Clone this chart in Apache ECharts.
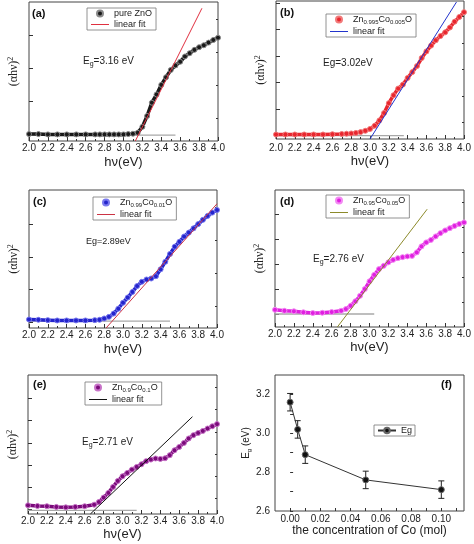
<!DOCTYPE html>
<html>
<head>
<meta charset="utf-8">
<script src="https://cdn.jsdelivr.net/npm/echarts@6/dist/echarts.min.js"></script>
<style>
html, body { margin: 0; padding: 0; background: #fff; }
#main { width: 474px; height: 544px; }
</style>
</head>
<body>
<div id="main"></div>
<script>
// photon energy (eV), shared by panels a-e
const energy = [2.0, 2.1, 2.2, 2.3, 2.4, 2.5, 2.6, 2.7, 2.75, 2.8, 2.85, 2.9, 2.95, 3.0, 3.05, 3.1, 3.15,
    3.2, 3.25, 3.3, 3.35, 3.4, 3.45, 3.5, 3.55, 3.6, 3.65, 3.7, 3.75, 3.8, 3.85, 3.9, 3.95, 4.0];

// (alpha h nu)^2, arbitrary units
const taucA = [0.21, 0.21, 0.2, 0.2, 0.2, 0.2, 0.2, 0.2, 0.2, 0.2, 0.2, 0.2, 0.2, 0.2, 0.21, 0.22, 0.25,
    0.43, 0.76, 1.16, 1.41, 1.7, 1.93, 2.15, 2.29, 2.4, 2.56, 2.66, 2.76, 2.84, 2.9, 2.98, 3.06, 3.13];
const taucB = [0.17, 0.17, 0.17, 0.17, 0.17, 0.17, 0.18, 0.19, 0.2, 0.21, 0.23, 0.26, 0.31, 0.38, 0.5, 0.7, 0.98,
    1.35, 1.65, 1.9, 2.05, 2.3, 2.52, 2.75, 3.05, 3.3, 3.52, 3.72, 3.88, 4.02, 4.2, 4.42, 4.6, 4.78];
const taucC = [0.26, 0.25, 0.24, 0.23, 0.23, 0.23, 0.23, 0.24, 0.25, 0.29, 0.34, 0.44, 0.59, 0.77, 0.93, 1.1, 1.28,
    1.41, 1.48, 1.51, 1.58, 1.79, 2.02, 2.26, 2.48, 2.63, 2.79, 2.91, 3.04, 3.17, 3.3, 3.42, 3.52, 3.6];
const taucD = [0.69, 0.65, 0.63, 0.59, 0.56, 0.57, 0.6, 0.65, 0.72, 0.85, 1.03, 1.25, 1.52, 1.83, 2.09, 2.32, 2.45,
    2.59, 2.69, 2.76, 2.8, 2.83, 2.85, 2.99, 3.23, 3.39, 3.49, 3.63, 3.76, 3.87, 3.96, 4.05, 4.13, 4.19];
const taucE = [0.39, 0.36, 0.35, 0.32, 0.3, 0.32, 0.35, 0.42, 0.54, 0.74, 0.95, 1.22, 1.49, 1.7, 1.85, 2.0, 2.12,
    2.24, 2.38, 2.45, 2.5, 2.48, 2.51, 2.65, 2.87, 3.02, 3.2, 3.4, 3.55, 3.65, 3.74, 3.85, 3.95, 4.05];

// linear fit end points [[x0, y0], [x1, y1]]
const fitA = [[3.125, 0], [3.83, 4.02]];
const fitB = [[3.0, 0], [3.92, 5.16]];
const fitC = [[2.82, 0], [4.0, 3.79]];
const fitD = [[2.66, 0], [3.61, 4.72]];
const fitE = [[2.66, 0], [3.74, 4.38]];

// grey baseline [x end, level]
const baseA = [3.55, 0.18];
const baseB = [3.36, 0.125];
const baseC = [3.5, 0.21];
const baseD = [3.05, 0.52];
const baseE = [3.15, 0.165];

// panel (f)
const conc = [0, 0.005, 0.01, 0.05, 0.1];
const eg = [3.16, 3.02, 2.89, 2.76, 2.71];
const egErr = [0.045, 0.045, 0.045, 0.045, 0.045];
const concTicks = [0, 0.01, 0.02, 0.03, 0.04, 0.05, 0.06, 0.07, 0.08, 0.09, 0.1, 0.11];
const concLabels = [0, 0.02, 0.04, 0.06, 0.08, 0.1];
const egTicks = [2.6, 2.7, 2.8, 2.9, 3.0, 3.1, 3.2];
const egLabels = [2.6, 2.8, 3.0, 3.2];

const panels = [
    { rect: [29, 2, 189, 139], ymax: 4.21, major: [0.2, 1.2, 2.2, 3.2], minor: [0.7, 1.7, 2.7, 3.7],
      tauc: taucA, fit: fitA, base: baseA, color: '#1a1a1a', border: '#8a8a8a', fitColor: '#e03040',
      name: 'pure ZnO', legend: [87, 8], lm: 2, xg: 15 },
    { rect: [276, 1, 188, 138], ymax: 5.2, major: [0.125, 1.125, 2.125, 3.125, 4.125, 5.125], minor: [0.625, 1.625, 2.625, 3.625, 4.625],
      tauc: taucB, fit: fitB, base: baseB, color: '#e8262e', border: '#f27a7a', fitColor: '#2233cc',
      name: '{t|Zn}{s|0.995}{t|Co}{s|0.005}{t|O}', legend: [326, 14], lm: 4, xg: 16 },
    { rect: [29, 190, 188, 138], ymax: 4.21, major: [0.18, 1.17, 2.17, 3.17], minor: [0.67, 1.67, 2.67, 3.67],
      tauc: taucC, fit: fitC, base: baseC, color: '#2424cc', border: '#7a7aee', fitColor: '#cc3344',
      name: '{t|Zn}{s|0.99}{t|Co}{s|0.01}{t|O}', legend: [93, 197], lm: 2, xg: 15 },
    { rect: [275, 190, 189, 137], ymax: 5.49, major: [0.5, 1.5, 2.5, 3.5, 4.5], minor: [1, 2, 3, 4, 5],
      tauc: taucD, fit: fitD, base: baseD, color: '#e020e0', border: '#f38af3', fitColor: '#8c8a2a',
      name: '{t|Zn}{s|0.95}{t|Co}{s|0.05}{t|O}', legend: [326, 195], lm: 2, xg: 14 },
    { rect: [28, 375, 189, 139], ymax: 6.26, major: [0.2, 1.2, 2.2, 3.2, 4.2, 5.2], minor: [0.7, 1.7, 2.7, 3.7, 4.7, 5.7],
      tauc: taucE, fit: fitE, base: baseE, color: '#7a0a7a', border: '#c873c8', fitColor: '#111111',
      name: '{t|Zn}{s|0.9}{t|Co}{s|0.1}{t|O}', legend: [85, 382], lm: 2, xg: 14 }
];

const subRich = {
    t: { fontSize: 9, color: '#222', lineHeight: 11 },
    s: { fontSize: 6, color: '#222', verticalAlign: 'bottom', lineHeight: 8 }
};
const lineIcon = 'path://M0,0L20,0L20,1.1L0,1.1Z';

const grids = [], xAxes = [], yAxes = [], series = [], legends = [];

panels.forEach((p, i) => {
    grids.push({ left: p.rect[0], top: p.rect[1], width: p.rect[2], height: p.rect[3],
        show: true, borderColor: '#444', borderWidth: 1, backgroundColor: 'transparent' });
    xAxes.push({
        type: 'value', gridIndex: i, min: 2, max: 4, interval: 0.2,
        axisLine: { show: false },
        axisTick: { inside: true, length: 4, lineStyle: { color: '#333' } },
        minorTick: { show: true, splitNumber: 2, length: 2, lineStyle: { color: '#333' } },
        splitLine: { show: false }, minorSplitLine: { show: false },
        axisLabel: { fontSize: 10, color: '#222', margin: p.lm, formatter: v => v.toFixed(1) },
        name: 'hν(eV)', nameLocation: 'middle', nameGap: p.xg,
        nameTextStyle: { fontSize: 13, color: '#222' }
    });
    yAxes.push({
        type: 'value', gridIndex: i, min: 0, max: p.ymax,
        axisLine: { show: false }, splitLine: { show: false }, axisLabel: { show: false },
        axisTick: { show: true, inside: true, length: 4, customValues: p.major, lineStyle: { color: '#333' } },
        name: '{a|(αhν)}{s|2}', nameLocation: 'middle', nameGap: 8, nameRotate: 90,
        nameTextStyle: {
            rich: {
                a: { fontFamily: 'Liberation Serif', fontSize: 12, color: '#222', lineHeight: 14 },
                s: { fontFamily: 'Liberation Serif', fontSize: 8, color: '#222', verticalAlign: 'top', lineHeight: 8 }
            }
        }
    });
    yAxes.push({
        type: 'value', gridIndex: i, min: 0, max: p.ymax,
        axisLine: { show: false }, splitLine: { show: false }, axisLabel: { show: false },
        axisTick: { show: true, inside: true, length: 2, customValues: p.minor, lineStyle: { color: '#333' } }
    });

    const dataName = 'data' + i, fitName = 'fit' + i;
    series.push({
        type: 'line', xAxisIndex: i, yAxisIndex: 2 * i, symbol: 'none', silent: true, z: 1,
        lineStyle: { color: '#a8a8a8', width: 1.3 },
        data: [[2.0, p.base[1]], [p.base[0], p.base[1]]]
    });
    series.push({
        name: dataName, type: 'line', xAxisIndex: i, yAxisIndex: 2 * i, z: 2,
        symbol: 'circle', symbolSize: 5, showSymbol: true,
        itemStyle: { color: p.color, borderColor: p.border, borderWidth: 1 },
        lineStyle: { color: p.color, width: 3.5 },
        data: energy.map((e, k) => [e, p.tauc[k]])
    });
    series.push({
        name: fitName, type: 'line', xAxisIndex: i, yAxisIndex: 2 * i, z: 3, symbol: 'none',
        lineStyle: { color: p.fitColor, width: 1 }, itemStyle: { color: p.fitColor },
        data: p.fit
    });
    legends.push({
        left: p.legend[0], top: p.legend[1], orient: 'vertical',
        padding: [1, 4, 1, 4], itemGap: 2, itemWidth: 18, itemHeight: 6,
        borderColor: '#777', borderWidth: 0.8, selectedMode: false,
        data: [{ name: dataName, icon: 'circle', itemStyle: { color: p.color, borderColor: p.border } },
               { name: fitName, icon: lineIcon, itemStyle: { color: p.fitColor, borderWidth: 0 } }],
        formatter: n => n === fitName ? '{t|linear fit}' : (i === 0 ? '{t|' + p.name + '}' : p.name),
        textStyle: { rich: subRich, fontSize: 9, padding: [0, 0, 0, 0] }
    });
});

// panel (f)
grids.push({ left: 275, top: 375, width: 189, height: 136, show: true, borderColor: '#444', borderWidth: 1 });
xAxes.push({
    type: 'value', gridIndex: 5, min: -0.01, max: 0.115,
    axisLine: { show: false }, splitLine: { show: false },
    axisTick: { inside: true, length: 3, customValues: concTicks, lineStyle: { color: '#333' } },
    axisLabel: { fontSize: 10, color: '#222', margin: 3, customValues: concLabels, formatter: v => v.toFixed(2) },
    name: 'the concentration of Co (mol)', nameLocation: 'middle', nameGap: 13,
    nameTextStyle: { fontSize: 12, color: '#222' }
});
yAxes.push({
    type: 'value', gridIndex: 5, min: 2.6, max: 3.3,
    axisLine: { show: false }, splitLine: { show: false },
    axisTick: { inside: true, length: 3, customValues: egTicks, lineStyle: { color: '#333' } },
    axisLabel: { fontSize: 10, color: '#222', margin: 5, customValues: egLabels, formatter: v => v.toFixed(1) },
    name: '{a|E}{s|g}{a| (eV)}', nameLocation: 'middle', nameGap: 22, nameRotate: 90,
    nameTextStyle: {
        rich: {
            a: { fontSize: 10, color: '#222', lineHeight: 12 },
            s: { fontSize: 6, color: '#222', verticalAlign: 'bottom', lineHeight: 8 }
        }
    }
});
series.push({
    type: 'custom', xAxisIndex: 5, yAxisIndex: 10, z: 2, silent: true,
    data: conc.map((c, k) => [c, eg[k] - egErr[k], eg[k] + egErr[k]]),
    renderItem: function (params, api) {
        const hi = api.coord([api.value(0), api.value(2)]);
        const lo = api.coord([api.value(0), api.value(1)]);
        const st = { stroke: '#222', lineWidth: 1 };
        return {
            type: 'group', children: [
                { type: 'line', shape: { x1: hi[0], y1: hi[1], x2: lo[0], y2: lo[1] }, style: st },
                { type: 'line', shape: { x1: hi[0] - 3, y1: hi[1], x2: hi[0] + 3, y2: hi[1] }, style: st },
                { type: 'line', shape: { x1: lo[0] - 3, y1: lo[1], x2: lo[0] + 3, y2: lo[1] }, style: st }
            ]
        };
    }
});
series.push({
    name: 'Eg', type: 'line', xAxisIndex: 5, yAxisIndex: 10, z: 3,
    symbol: 'circle', symbolSize: 6,
    itemStyle: { color: '#111', borderColor: '#666', borderWidth: 1 },
    lineStyle: { color: '#333', width: 1 },
    data: conc.map((c, k) => [c, eg[k]])
});
legends.push({
    left: 374, top: 425, padding: [1, 3, 1, 3], itemWidth: 18, itemHeight: 7,
    borderColor: '#777', borderWidth: 0.8, selectedMode: false,
    data: ['Eg'], textStyle: { fontSize: 9, color: '#222' }
});

const egRich = {
    a: { fontSize: 10, color: '#222', lineHeight: 13 },
    s: { fontSize: 7, color: '#222', verticalAlign: 'bottom', lineHeight: 9 }
};
function label(text, left, top, size) {
    return { type: 'text', left: left, top: top, z: 10,
        style: { text: text, font: 'bold ' + size + 'px "Liberation Sans"', fill: '#111' } };
}
function note(text, left, top, size) {
    return { type: 'text', left: left, top: top, z: 10,
        style: { text: text, rich: egRich, font: size + 'px "Liberation Sans"', fill: '#222' } };
}

const chart = echarts.init(document.getElementById('main'));
chart.setOption({
    animation: false,
    textStyle: { fontFamily: 'Liberation Sans' },
    grid: grids, xAxis: xAxes, yAxis: yAxes, series: series, legend: legends,
    graphic: [
        label('(a)', 32, 8, 11), label('(b)', 280, 7, 11), label('(c)', 33, 196, 11),
        label('(d)', 280, 196, 11), label('(e)', 33, 379, 11), label('(f)', 441, 379, 11),
        note('{a|E}{s|g}{a|=3.16 eV}', 83, 56, 10),
        note('Eg=3.02eV', 323, 58, 10),
        note('Eg=2.89eV', 86, 237, 9),
        note('{a|E}{s|g}{a|=2.76 eV}', 313, 254, 10),
        note('{a|E}{s|g}{a|=2.71 eV}', 82, 437, 10)
    ]
});
</script>
</body>
</html>
